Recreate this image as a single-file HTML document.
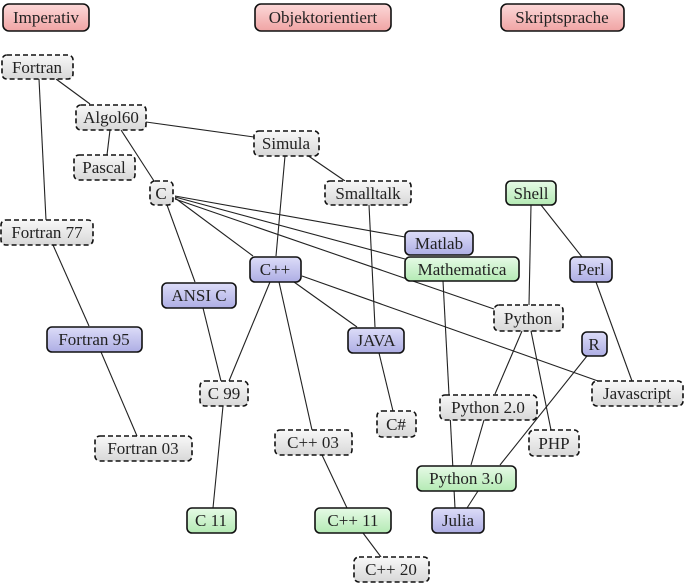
<!DOCTYPE html>
<html><head><meta charset="utf-8"><style>
html,body{margin:0;padding:0;background:#fff;}
svg{display:block;}
text{font-family:"Liberation Serif",serif;font-size:17px;fill:#222;}
</style></head><body>
<svg width="685" height="584" viewBox="0 0 685 584" xmlns="http://www.w3.org/2000/svg">
<defs>
<linearGradient id="g" x1="0" y1="0" x2="0" y2="1"><stop offset="0" stop-color="#f8f8f8"/><stop offset="1" stop-color="#d8d8d8"/></linearGradient>
<linearGradient id="b" x1="0" y1="0" x2="0" y2="1"><stop offset="0" stop-color="#dcdcf8"/><stop offset="1" stop-color="#aeaee4"/></linearGradient>
<linearGradient id="gr" x1="0" y1="0" x2="0" y2="1"><stop offset="0" stop-color="#e6fae6"/><stop offset="1" stop-color="#b4eab4"/></linearGradient>
<linearGradient id="r" x1="0" y1="0" x2="0" y2="1"><stop offset="0" stop-color="#fcd8d8"/><stop offset="1" stop-color="#f0a4a4"/></linearGradient>
</defs>
<g stroke="#222" stroke-width="1.1">
<line x1="56" y1="79" x2="90" y2="104"/>
<line x1="39" y1="79" x2="46" y2="220"/>
<line x1="110" y1="130" x2="107" y2="155"/>
<line x1="121" y1="130" x2="154" y2="181"/>
<line x1="146" y1="122" x2="254" y2="137"/>
<line x1="285" y1="156" x2="276" y2="256"/>
<line x1="307" y1="155" x2="345" y2="181"/>
<line x1="167" y1="205" x2="195" y2="282"/>
<line x1="175" y1="198" x2="253" y2="256"/>
<line x1="175" y1="196" x2="405" y2="237"/>
<line x1="175" y1="197" x2="405" y2="259"/>
<line x1="175" y1="199" x2="494" y2="309"/>
<line x1="369" y1="205" x2="375" y2="327"/>
<line x1="270" y1="282" x2="229" y2="381"/>
<line x1="279" y1="282" x2="312" y2="430"/>
<line x1="294" y1="282" x2="357" y2="327"/>
<line x1="302" y1="276" x2="598" y2="381"/>
<line x1="203" y1="308" x2="221" y2="381"/>
<line x1="223" y1="406" x2="213" y2="508"/>
<line x1="322" y1="455" x2="347" y2="508"/>
<line x1="363" y1="533" x2="381" y2="557"/>
<line x1="379" y1="353" x2="393" y2="411"/>
<line x1="53" y1="245" x2="89" y2="326"/>
<line x1="101" y1="352" x2="137" y2="436"/>
<line x1="531" y1="205" x2="529" y2="305"/>
<line x1="541" y1="205" x2="582" y2="257"/>
<line x1="596" y1="282" x2="632" y2="381"/>
<line x1="443" y1="281" x2="455" y2="508"/>
<line x1="522" y1="331" x2="495" y2="394"/>
<line x1="531" y1="331" x2="551" y2="430"/>
<line x1="587" y1="356" x2="500" y2="465"/>
<line x1="484" y1="420" x2="471" y2="465"/>
<line x1="478" y1="491" x2="467" y2="508"/>
</g>
<g stroke="#111" stroke-width="1.6">
<!-- header red -->
<rect x="3" y="4" width="86" height="27" rx="6" fill="url(#r)"/>
<rect x="255" y="4" width="136" height="27" rx="6" fill="url(#r)"/>
<rect x="501" y="4" width="123" height="27" rx="6" fill="url(#r)"/>
<!-- blue -->
<rect x="405" y="231" width="68" height="24" rx="5" fill="url(#b)"/>
<rect x="250" y="257" width="51" height="25" rx="5" fill="url(#b)"/>
<rect x="570" y="257" width="42" height="25" rx="5" fill="url(#b)"/>
<rect x="162" y="283" width="74" height="25" rx="5" fill="url(#b)"/>
<rect x="47" y="327" width="95" height="25" rx="5" fill="url(#b)"/>
<rect x="348" y="328" width="56" height="25" rx="5" fill="url(#b)"/>
<rect x="582" y="332" width="25" height="24" rx="5" fill="url(#b)"/>
<rect x="432" y="508" width="52" height="25" rx="5" fill="url(#b)"/>
<!-- green -->
<rect x="506" y="181" width="50" height="24" rx="5" fill="url(#gr)"/>
<rect x="405" y="257" width="114" height="24" rx="5" fill="url(#gr)"/>
<rect x="417" y="466" width="99" height="25" rx="5" fill="url(#gr)"/>
<rect x="187" y="508" width="49" height="25" rx="5" fill="url(#gr)"/>
<rect x="315" y="508" width="76" height="25" rx="5" fill="url(#gr)"/>
</g>
<g stroke="#111" stroke-width="1.6" stroke-dasharray="5,3" fill="url(#g)">
<rect x="2" y="55" width="71" height="24" rx="5"/>
<rect x="76" y="105" width="70" height="25" rx="5"/>
<rect x="254" y="131" width="65" height="25" rx="5"/>
<rect x="74" y="155" width="61" height="25" rx="5"/>
<rect x="150" y="181" width="23" height="24" rx="5"/>
<rect x="325" y="181" width="86" height="24" rx="5"/>
<rect x="1" y="220" width="92" height="25" rx="5"/>
<rect x="494" y="305" width="69" height="26" rx="5"/>
<rect x="200" y="381" width="48" height="25" rx="5"/>
<rect x="592" y="381" width="91" height="25" rx="5"/>
<rect x="440" y="395" width="97" height="25" rx="5"/>
<rect x="377" y="411" width="39" height="26" rx="5"/>
<rect x="275" y="430" width="77" height="25" rx="5"/>
<rect x="529" y="430" width="50" height="26" rx="5"/>
<rect x="95" y="436" width="97" height="25" rx="5"/>
<rect x="354" y="557" width="75" height="25" rx="5"/>
</g>
<g text-anchor="middle">
<text x="46" y="23">Imperativ</text>
<text x="323" y="23">Objektorientiert</text>
<text x="562" y="23">Skriptsprache</text>
<text x="37" y="73">Fortran</text>
<text x="111" y="123">Algol60</text>
<text x="286" y="149">Simula</text>
<text x="104" y="173">Pascal</text>
<text x="161" y="199">C</text>
<text x="368" y="199">Smalltalk</text>
<text x="531" y="199">Shell</text>
<text x="47" y="238">Fortran 77</text>
<text x="439" y="249">Matlab</text>
<text x="462" y="275">Mathematica</text>
<text x="275" y="275">C++</text>
<text x="591" y="275">Perl</text>
<text x="199" y="301">ANSI C</text>
<text x="528" y="324">Python</text>
<text x="94" y="345">Fortran 95</text>
<text x="376" y="346">JAVA</text>
<text x="594" y="350">R</text>
<text x="224" y="399">C 99</text>
<text x="637" y="399">Javascript</text>
<text x="488" y="413">Python 2.0</text>
<text x="396" y="430">C#</text>
<text x="313" y="448">C++ 03</text>
<text x="554" y="449">PHP</text>
<text x="143" y="454">Fortran 03</text>
<text x="466" y="484">Python 3.0</text>
<text x="211" y="526">C 11</text>
<text x="353" y="526">C++ 11</text>
<text x="458" y="526">Julia</text>
<text x="391" y="575">C++ 20</text>
</g>
</svg>
</body></html>
